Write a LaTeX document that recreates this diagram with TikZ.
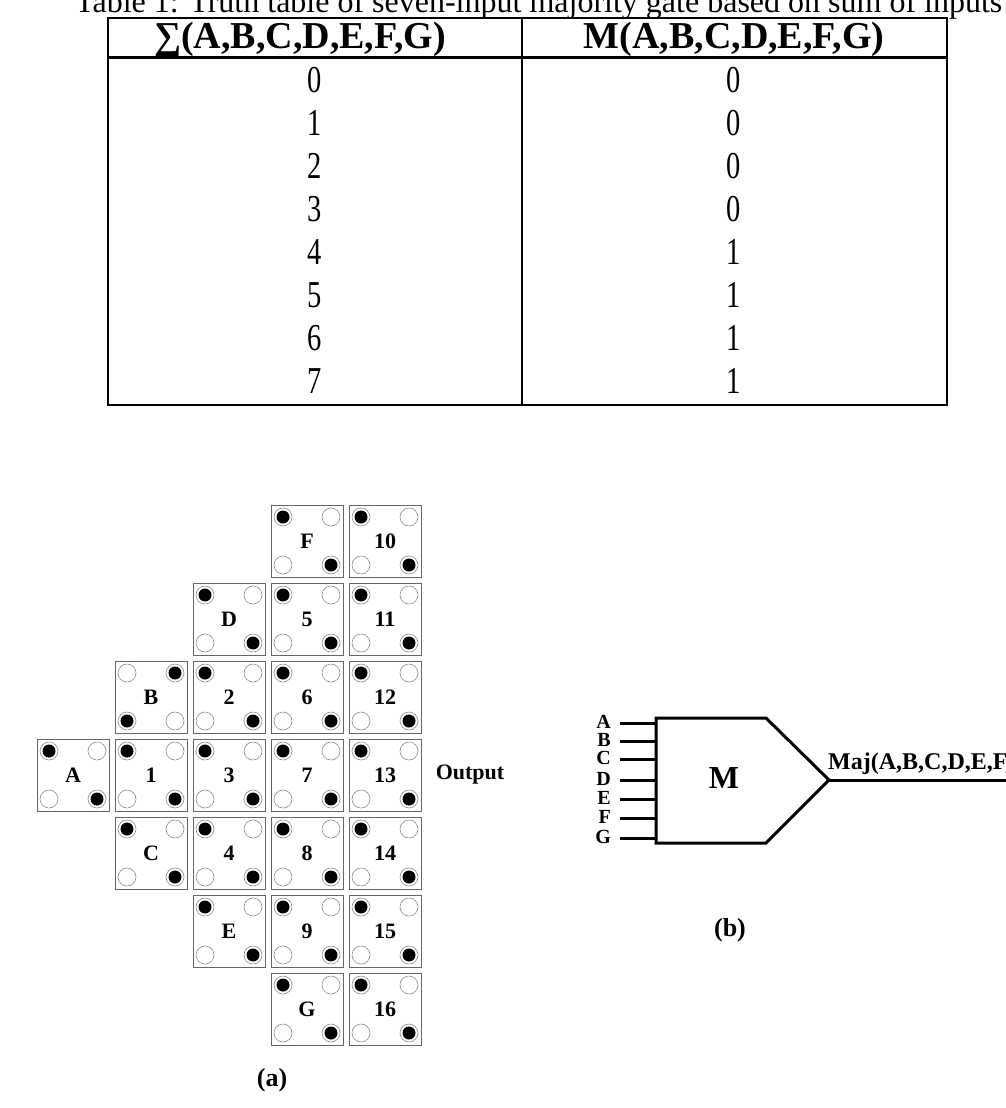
\documentclass[tikz,border=0pt]{standalone}
\usepackage{fontspec}
\setmainfont{Liberation Serif}
\begin{document}
\begin{tikzpicture}[x=1pt,y=-1pt,
  cell/.style={draw=black!60,line width=1pt,minimum size=72pt,inner sep=0pt,font=\fontsize{22}{22}\selectfont\bfseries},
  hole/.style={draw=black!45,line width=0.6pt,fill=white},
  dot/.style={fill=black},
  thk/.style={line width=3pt},
  num/.style={font=\fontsize{38}{38}\selectfont},
  lab/.style={font=\fontsize{22}{22}\selectfont\bfseries}]
\useasboundingbox (0,0) rectangle (1006,1108);
\fill[white] (0,0) rectangle (1006,1108);
% title
\node[font=\fontsize{32}{32}\selectfont,anchor=base west,inner sep=0pt] (title) at (75,13) {Table 1: Truth table of seven-input majority gate based on sum of inputs};
% table
\draw[line width=2pt] (108,18) rectangle (947,405);
\draw[line width=1.2pt] (522,18) -- (522,405);
\draw[line width=3pt] (108,58) -- (947,58);
\node[font=\fontsize{38}{38}\selectfont\bfseries] (h1) at (300,39) {∑(A,B,C,D,E,F,G)};
\node[font=\fontsize{38}{38}\selectfont\bfseries] (h2) at (734,39) {M(A,B,C,D,E,F,G)};
\foreach \i/\m in {0/0,1/0,2/0,3/0,4/1,5/1,6/1,7/1}{
  \node[num] (s\i) at (315,80+43*\i) {\scalebox{0.75}[1]{\i}};
  \node[num] (m\i) at (734,80+43*\i) {\scalebox{0.75}[1]{\m}};
}
% cells
\newcommand{\qcell}[5]{% name,x,y,label,type
  \node[cell] (#1) at (#2,#3) {#4};
  \foreach \dx/\dy in {-1/-1,1/-1,-1/1,1/1}
    \draw[hole] (#2+\dx*24,#3+\dy*24) circle (9);
  \ifnum#5=0
    \fill[dot] (#2-24,#3-24) circle (6.5); \fill[dot] (#2+24,#3+24) circle (6.5);
  \else
    \fill[dot] (#2+24,#3-24) circle (6.5); \fill[dot] (#2-24,#3+24) circle (6.5);
  \fi}
\qcell{cF}{307}{541}{F}{0}
\qcell{c10}{385}{541}{10}{0}
\qcell{cD}{229}{619}{D}{0}
\qcell{c5}{307}{619}{5}{0}
\qcell{c11}{385}{619}{11}{0}
\qcell{cB}{151}{697}{B}{1}
\qcell{c2}{229}{697}{2}{0}
\qcell{c6}{307}{697}{6}{0}
\qcell{c12}{385}{697}{12}{0}
\qcell{cA}{73}{775}{A}{0}
\qcell{c1}{151}{775}{1}{0}
\qcell{c3}{229}{775}{3}{0}
\qcell{c7}{307}{775}{7}{0}
\qcell{c13}{385}{775}{13}{0}
\qcell{cC}{151}{853}{C}{0}
\qcell{c4}{229}{853}{4}{0}
\qcell{c8}{307}{853}{8}{0}
\qcell{c14}{385}{853}{14}{0}
\qcell{cE}{229}{931}{E}{0}
\qcell{c9}{307}{931}{9}{0}
\qcell{c15}{385}{931}{15}{0}
\qcell{cG}{307}{1009}{G}{0}
\qcell{c16}{385}{1009}{16}{0}
\node[lab] (out) at (470,775) {Output};
\node[font=\fontsize{26}{26}\selectfont\bfseries] (la) at (272,1080) {(a)};
% gate
\draw[thk,line join=miter] (656,718) -- (766,718) -- (829,780) -- (766,843) -- (656,843) -- cycle;
\node[font=\fontsize{32}{32}\selectfont\bfseries] (M) at (724,778) {M};
\foreach \n/\y in {A/723,B/741,C/759,D/780,E/799,F/818,G/838}{
  \coordinate (i\n) at (620,\y);
  \draw[thk] (i\n) -- (656,\y);
  \node[font=\fontsize{20}{20}\selectfont\bfseries,anchor=east,inner sep=0pt] (t\n) at (611,\y-1) {\n};
}
\coordinate (o) at (829,780);
\coordinate (oe) at (1010,780);
\draw[thk] (o) -- (oe);
\node[font=\fontsize{24}{24}\selectfont\bfseries,anchor=south west,inner sep=1pt] (maj) at (827,776) {Maj(A,B,C,D,E,F,G)};
\node[font=\fontsize{26}{26}\selectfont\bfseries] (lb) at (730,930) {(b)};
\end{tikzpicture}
\end{document}
